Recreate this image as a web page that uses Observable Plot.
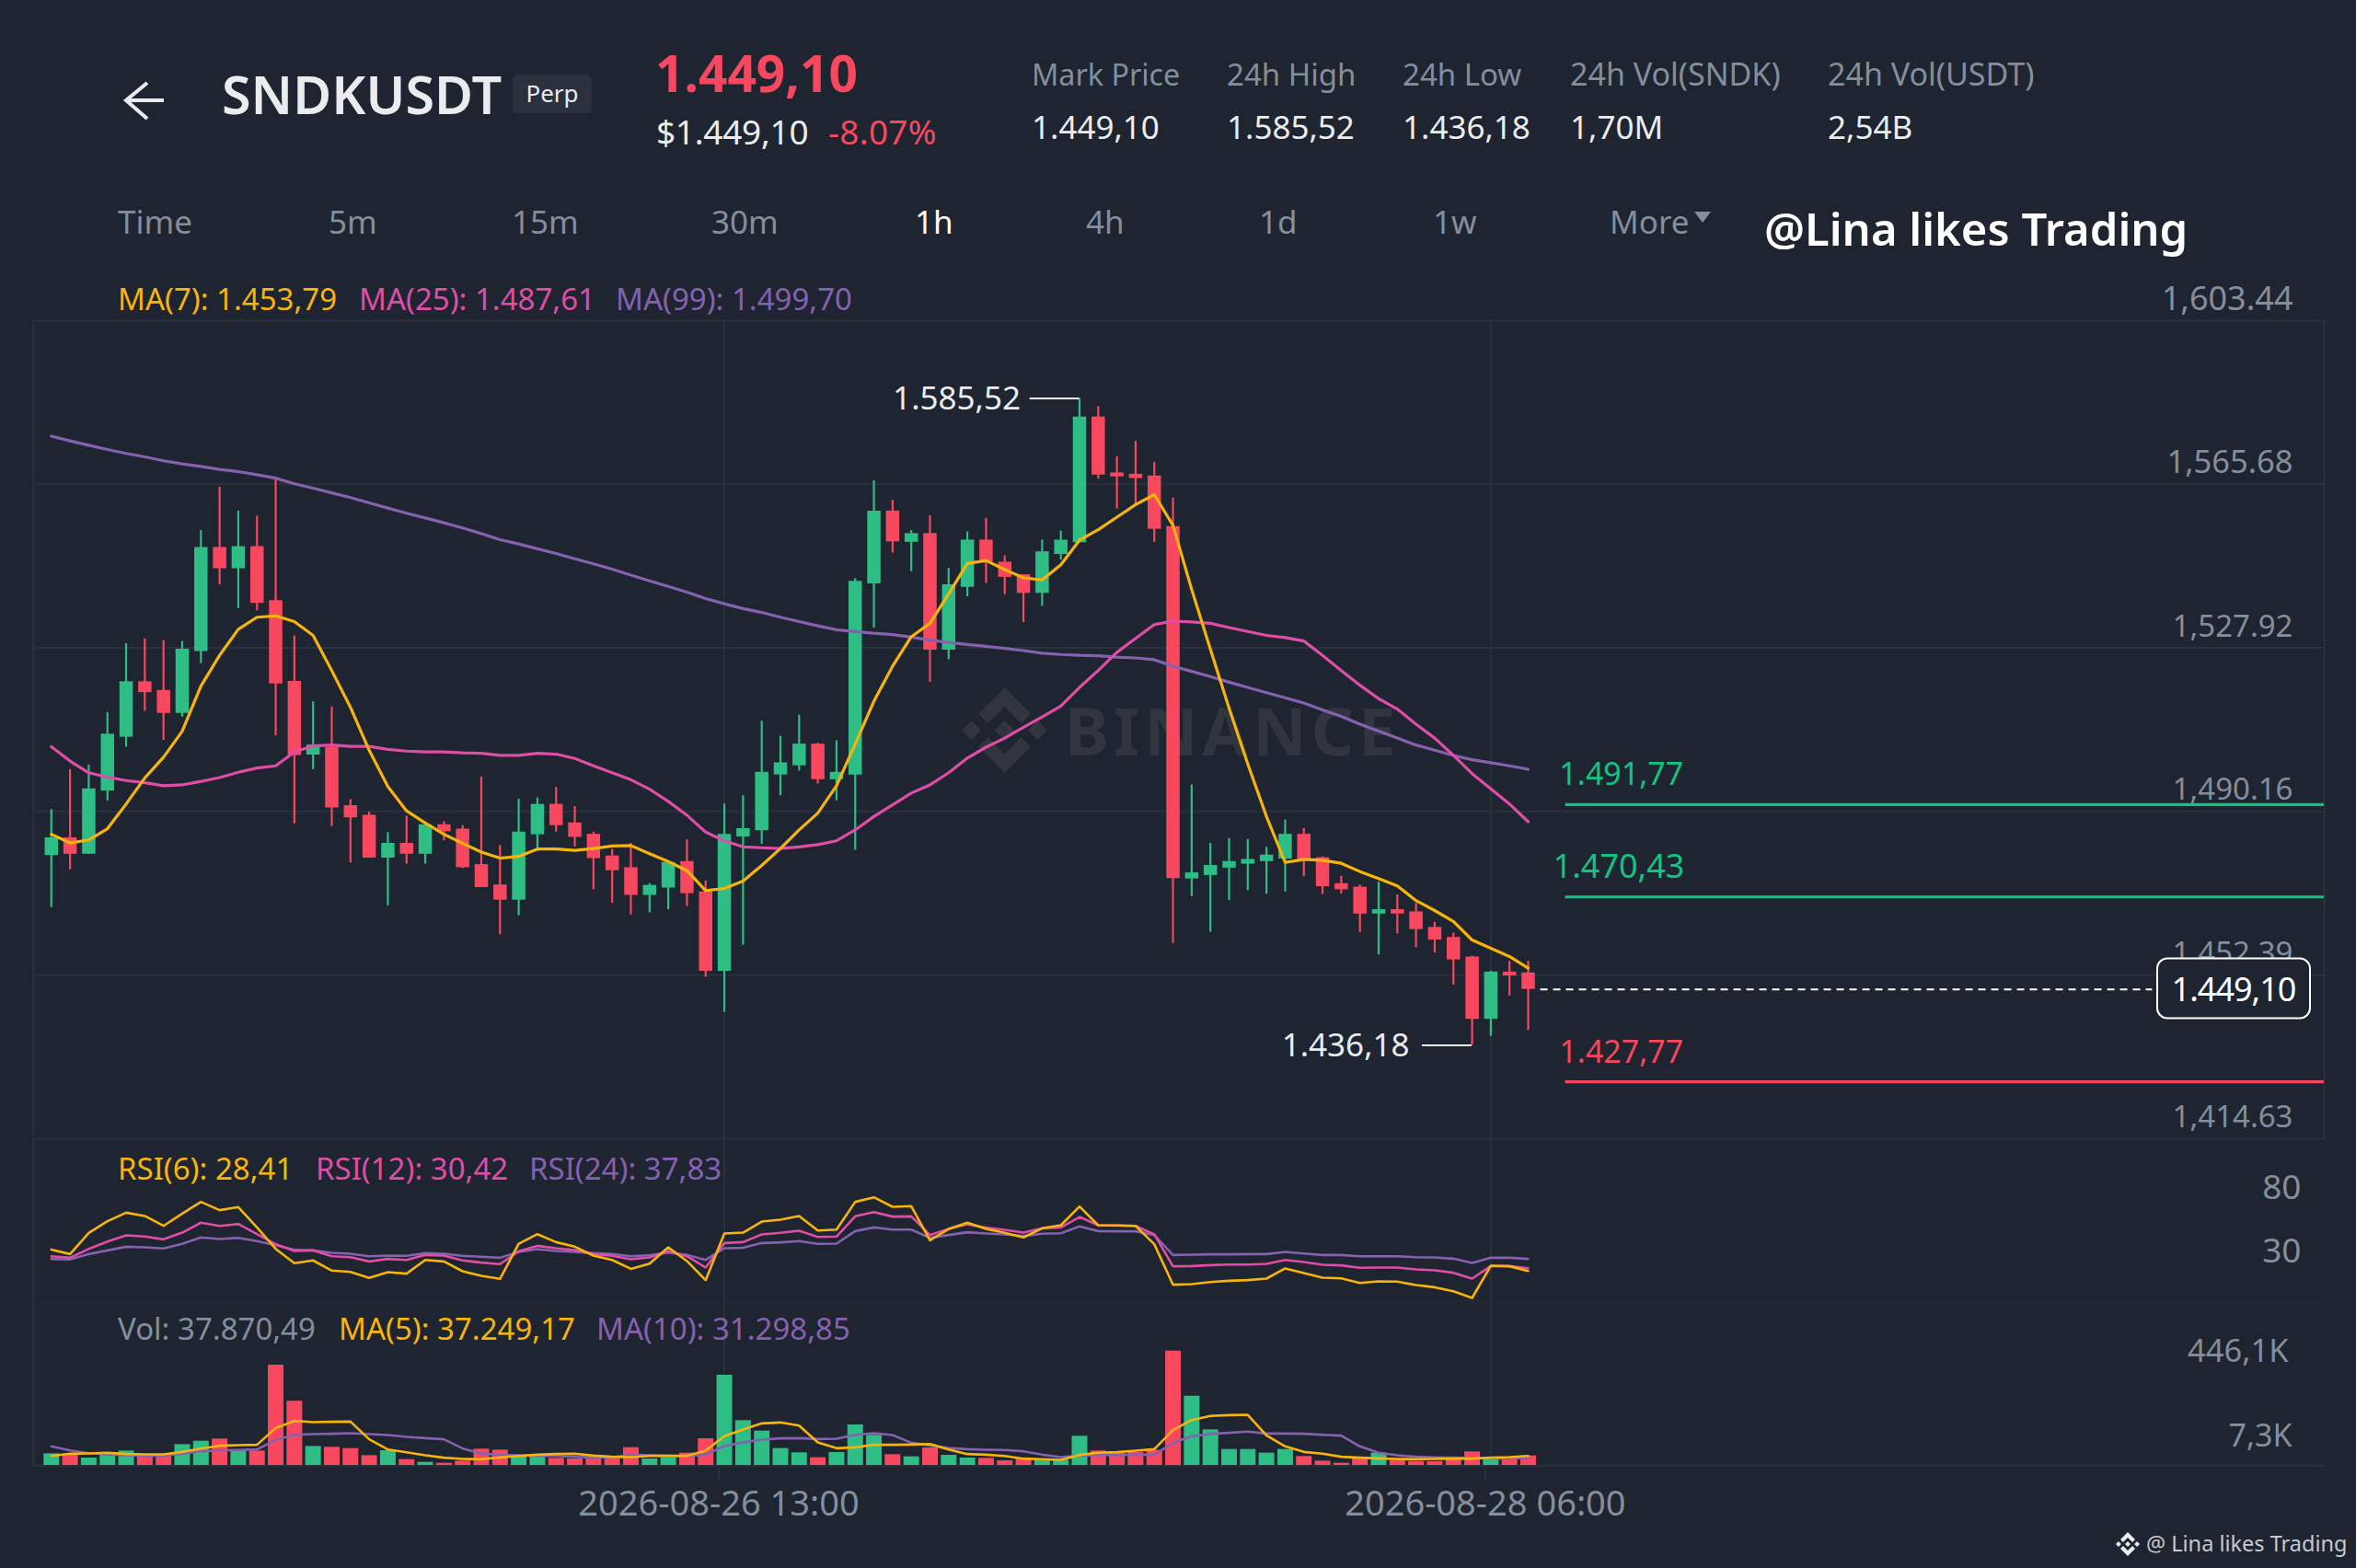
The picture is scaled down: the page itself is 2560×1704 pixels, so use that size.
<!DOCTYPE html>
<html><head><meta charset="utf-8">
<script src="https://cdn.jsdelivr.net/npm/d3@7"></script>
<script src="https://cdn.jsdelivr.net/npm/@observablehq/plot@0.6"></script>
<style>
html,body{margin:0;padding:0;background:#1e2530}
#page{position:relative;width:2560px;height:1704px;overflow:hidden;background:#1e2530;font-family:"Noto Sans",sans-serif}
#page>svg{position:absolute;left:0;background:transparent}
.t{position:absolute;white-space:nowrap;line-height:1;transform:translateY(-50%)}
</style></head><body><div id="page"></div>
<script>
const opens=[1480.0,1484.1,1480.3,1494.9,1507.3,1520.1,1518.1,1512.8,1527.1,1551.1,1546.2,1551.3,1538.8,1520.2,1503.2,1505.0,1491.5,1489.3,1479.4,1482.8,1480.3,1487.1,1486.1,1477.9,1473.2,1469.7,1484.8,1491.8,1487.5,1484.9,1479.9,1477.2,1470.8,1472.5,1478.6,1471.6,1453.3,1484.3,1485.7,1498.6,1500.7,1505.7,1497.5,1498.6,1542.7,1559.5,1552.3,1554.3,1527.4,1541.9,1552.8,1547.7,1544.8,1540.5,1549.5,1552.2,1581.2,1568.3,1568.0,1567.6,1555.9,1474.6,1475.4,1477.1,1478.0,1478.6,1479.2,1484.9,1479.5,1473.5,1472.7,1466.5,1467.5,1467.0,1463.4,1461.1,1456.6,1442.2,1453.1,1452.9];
const highs=[1490.6,1499.8,1500.9,1513.0,1528.9,1530.0,1529.6,1529.4,1555.0,1565.0,1559.5,1558.3,1566.8,1530.7,1515.5,1514.3,1492.9,1490.0,1485.3,1489.1,1487.1,1487.8,1486.9,1498.1,1482.3,1493.0,1493.3,1495.7,1491.3,1485.4,1481.4,1482.8,1473.5,1478.8,1483.6,1474.1,1491.9,1493.8,1511.0,1507.5,1512.4,1505.9,1506.5,1543.9,1566.5,1562.0,1555.0,1558.4,1546.3,1554.7,1557.8,1549.2,1544.8,1552.8,1554.9,1585.5,1583.6,1572.0,1575.6,1570.7,1562.5,1496.3,1482.8,1483.9,1483.7,1481.9,1488.2,1486.2,1479.7,1475.2,1473.2,1473.9,1470.9,1469.0,1464.6,1462.1,1456.8,1453.3,1455.6,1455.6];
const lows=[1468.0,1476.7,1480.3,1492.6,1505.0,1513.3,1506.6,1511.9,1524.3,1542.5,1537.0,1536.5,1507.6,1487.3,1499.8,1486.7,1478.3,1479.4,1468.4,1478.0,1478.0,1483.4,1477.0,1472.6,1461.7,1466.1,1481.6,1485.4,1482.0,1472.1,1469.0,1466.3,1466.8,1467.5,1468.2,1451.9,1443.8,1459.3,1482.6,1493.8,1499.5,1496.5,1492.6,1481.2,1532.5,1549.8,1545.5,1520.0,1525.2,1539.7,1542.8,1540.2,1533.8,1537.5,1548.2,1552.2,1566.9,1560.0,1561.2,1552.3,1459.7,1470.5,1462.3,1469.6,1471.9,1471.1,1471.6,1475.1,1471.0,1471.1,1462.2,1457.1,1461.9,1458.7,1457.5,1450.1,1436.2,1438.3,1447.6,1439.6];
const closes=[1484.1,1480.3,1495.4,1508.0,1520.1,1517.6,1512.8,1527.6,1551.1,1546.2,1551.3,1538.2,1519.6,1503.1,1505.5,1491.0,1488.7,1479.4,1482.8,1480.3,1487.1,1485.5,1477.2,1472.6,1469.7,1485.4,1491.8,1486.9,1484.2,1479.3,1476.5,1470.8,1473.1,1478.4,1471.2,1453.3,1484.9,1486.2,1499.2,1501.4,1505.7,1497.5,1499.2,1543.3,1559.5,1552.4,1554.3,1527.4,1542.5,1552.8,1547.7,1544.2,1540.5,1550.1,1552.8,1581.2,1567.8,1567.4,1567.0,1555.3,1474.7,1476.0,1477.7,1478.6,1479.1,1480.1,1484.9,1479.2,1472.8,1472.1,1466.5,1467.5,1466.5,1462.9,1460.5,1455.9,1442.2,1453.1,1452.2,1449.1];
const ma7=[1484.9,1482.9,1483.6,1486.2,1491.9,1497.9,1502.7,1508.7,1519.1,1526.2,1532.2,1535.0,1535.3,1534.0,1530.8,1522.7,1514.2,1504.3,1495.9,1490.3,1487.5,1484.9,1482.8,1480.8,1479.4,1479.8,1481.5,1481.5,1481.2,1481.6,1482.2,1482.3,1480.4,1478.6,1476.5,1471.9,1472.4,1474.1,1477.7,1481.6,1485.9,1489.8,1496.1,1505.7,1515.6,1523.7,1530.5,1533.6,1540.4,1547.4,1548.1,1546.0,1544.1,1543.6,1547.1,1552.8,1555.2,1558.1,1561.0,1563.3,1556.2,1541.4,1527.6,1514.0,1501.1,1489.0,1478.4,1479.1,1478.9,1478.2,1476.3,1474.7,1473.0,1469.6,1467.3,1464.8,1460.5,1458.6,1456.7,1454.0];
const ma25=[1505.1,1501.8,1499.1,1498.1,1497.3,1496.8,1496.1,1496.3,1497.1,1498.0,1499.2,1500.2,1500.7,1503.9,1505.3,1505.5,1505.2,1505.2,1504.5,1504.1,1503.9,1503.9,1503.7,1503.6,1503.1,1503.1,1503.6,1503.4,1502.4,1500.7,1499.1,1497.5,1495.3,1492.5,1489.3,1485.4,1483.4,1482.0,1481.8,1481.6,1482.0,1482.5,1483.4,1485.9,1489.0,1491.7,1494.4,1496.3,1499.1,1502.5,1505.0,1507.1,1509.6,1512.0,1514.5,1518.8,1522.7,1526.9,1530.1,1533.3,1534.1,1533.9,1533.6,1532.6,1531.7,1530.8,1530.3,1529.5,1526.2,1522.7,1519.3,1516.2,1513.8,1510.3,1507.1,1503.1,1498.9,1495.4,1491.9,1487.8];
const ma99=[1576.8,1575.7,1574.7,1573.7,1572.8,1572.0,1571.1,1570.4,1569.8,1569.1,1568.6,1567.9,1567.1,1565.8,1564.8,1563.7,1562.6,1561.4,1560.2,1559.0,1557.9,1556.8,1555.6,1554.3,1552.9,1551.9,1550.8,1549.7,1548.5,1547.3,1546.1,1544.7,1543.4,1542.1,1540.8,1539.3,1538.1,1537.0,1536.1,1535.0,1534.0,1533.0,1532.1,1531.7,1531.3,1531.0,1530.4,1529.7,1529.2,1528.7,1528.3,1527.8,1527.3,1526.7,1526.4,1526.2,1526.1,1525.8,1525.6,1525.2,1523.7,1522.5,1521.3,1520.0,1518.8,1517.6,1516.4,1515.2,1513.6,1512.1,1510.3,1508.7,1507.1,1505.5,1504.3,1503.1,1502.1,1501.4,1500.7,1499.9];
const rsi6=[45.3,41.7,58.4,67.6,74.3,71.7,63.9,73.6,82.8,76.3,78.7,62.7,45.8,34.5,36.7,28.7,27.7,22.9,27.5,26.3,37.1,35.9,28.2,24.6,22.2,49.9,57.4,51.1,47.5,40.5,37.1,30.1,34.2,47.0,36.2,21.2,57.9,58.6,67.3,68.8,71.7,60.3,61.0,82.8,86.4,78.9,79.4,52.6,61.5,66.4,61.5,58.4,54.8,62.0,64.4,79.2,64.4,64.2,63.9,49.5,17.6,18.1,19.7,20.7,21.2,22.4,30.4,26.8,23.1,22.6,19.0,20.2,20.0,17.3,15.6,12.5,7.2,32.5,32.1,28.4];
const rsi12=[40.0,38.8,45.8,51.6,56.5,55.5,53.3,58.6,66.4,63.9,65.4,57.4,49.5,44.1,44.6,40.0,39.3,35.9,37.9,37.1,41.0,40.5,36.7,35.0,33.8,43.9,48.2,46.3,44.9,41.7,40.3,37.6,39.1,43.9,40.0,31.1,50.4,51.1,57.2,58.4,60.1,55.2,55.5,71.4,74.8,71.2,71.4,56.7,61.5,65.1,62.5,60.8,58.6,62.0,62.7,70.9,64.4,64.2,63.9,57.2,32.1,32.3,33.0,33.5,33.5,34.0,37.1,35.4,33.3,32.8,30.9,31.1,31.1,29.6,28.9,27.0,22.4,32.3,32.3,30.6];
const rsi24=[37.9,37.4,41.7,44.6,47.5,47.0,46.1,49.7,54.8,53.6,54.5,51.9,48.7,45.1,44.6,42.7,42.0,40.0,40.5,40.3,42.4,42.0,40.3,39.6,38.8,43.4,45.6,44.1,43.4,42.4,41.7,40.0,40.8,42.9,41.0,37.1,46.3,46.6,50.4,50.9,51.9,49.7,49.9,59.8,62.7,61.0,61.0,54.5,56.7,58.9,57.9,57.2,56.0,57.7,58.1,63.5,59.8,59.6,59.6,56.7,41.0,41.2,41.5,41.5,41.7,41.7,43.4,42.2,41.0,41.0,40.0,40.0,40.0,39.3,39.1,38.1,34.7,38.8,38.8,37.9];
const volumes=[46.5,42.8,29.4,44.0,57.5,40.4,40.4,83.2,96.6,105.2,61.2,57.5,400.0,255.7,75.8,72.2,67.3,39.1,58.7,23.2,12.2,8.6,17.1,64.8,61.2,40.4,36.7,28.1,25.7,28.1,28.1,71.0,25.7,30.6,48.9,106.4,359.6,178.6,137.0,67.3,50.2,30.6,51.4,161.5,119.9,42.8,34.3,69.7,40.4,29.4,28.1,18.3,25.7,24.5,20.8,116.2,57.5,48.9,51.4,59.9,456.3,276.5,141.9,63.6,63.6,48.9,63.6,35.5,17.1,8.6,30.6,48.9,20.8,15.9,14.7,30.6,53.8,26.9,30.6,37.9];
const volMa5=[37.9,46.5,47.7,50.2,45.3,44.0,44.0,53.8,67.3,78.3,80.7,82.0,149.2,177.4,172.5,173.7,174.9,104.0,63.6,52.6,40.4,30.6,25.7,24.5,31.8,37.9,42.8,45.3,46.5,39.1,34.3,33.0,37.9,37.9,37.9,58.7,116.2,143.1,167.6,171.3,159.0,91.7,68.5,72.2,82.0,82.0,83.2,85.6,63.6,45.3,42.8,37.9,26.9,24.5,22.0,41.6,50.2,52.6,58.7,64.8,140.7,181.0,197.0,200.6,201.8,119.9,75.8,53.8,46.5,34.3,30.6,28.1,25.7,24.5,25.7,26.9,26.9,30.6,33.0,37.9];
const volMa10=[75.8,59.9,48.9,44.0,40.4,39.1,39.1,46.5,56.3,59.9,61.2,63.6,101.5,122.3,124.8,126.0,128.4,124.8,121.1,113.8,108.9,104.0,67.3,47.7,41.6,40.4,37.9,37.9,34.3,31.8,33.0,42.8,40.4,37.9,36.7,42.8,77.1,91.7,102.8,107.7,108.9,105.2,106.4,122.3,128.4,121.1,90.5,79.5,69.7,64.8,62.4,61.2,56.3,42.8,33.0,39.1,41.6,41.6,42.8,42.8,89.3,116.2,126.0,129.7,134.6,127.2,127.2,126.0,122.3,118.7,75.8,50.2,40.4,34.3,31.8,30.6,29.4,28.1,28.1,30.6];

const firstHour=new Date("2026-08-25T01:00Z"), lastHour=new Date("2026-08-28T08:00Z");
const timeTicks=[new Date("2026-08-26T13:00Z"),new Date("2026-08-28T06:00Z")];
const priceTicks=[1603.44,1565.68,1527.92,1490.16,1452.39,1414.63];
const rsiTicks=[80,30];
const levelStart=new Date("2026-08-28T10:00Z"), levelEnd=new Date("2026-08-30T02:35Z"), lastStart=new Date("2026-08-28T08:40Z"), lastEnd=new Date("2026-08-29T17:24Z");
const levels=[{p:1491.77,label:"1.491,77",c:"#12c481",s:34,lx:new Date("2026-08-28T09:40Z")},{p:1470.43,label:"1.470,43",c:"#12c481",s:36,lx:new Date("2026-08-28T09:20Z")},{p:1427.77,label:"1.427,77",c:"#f6465d",s:34,lx:new Date("2026-08-28T09:40Z")}];
const lastPrice=1449.10, lastLabel="1.449,10";
const highMark=[{t:new Date("2026-08-27T08:00Z"),from:new Date("2026-08-27T05:21Z"),p:1585.52,label:"1.585,52"}];
const lowMark=[{t:new Date("2026-08-28T05:00Z"),from:new Date("2026-08-28T02:20Z"),p:1436.18,label:"1.436,18"}];
const GREEN="#2ebd85",RED="#f84860",YEL="#f7b50c",PINK="#df4da6",PUR="#8561b0",GRID="#2a313d",GREY="#848e9c",LIGHT="#eaecef";

const hours=closes.map((_,i)=>d3.utcHour.offset(firstHour,i));
const candles=closes.map((c,i)=>({t:hours[i],o:opens[i],h:highs[i],l:lows[i],c,v:volumes[i],up:c>=opens[i]}));
const up=candles.filter(d=>d.up),down=candles.filter(d=>!d.up);
const series=a=>a.map((v,i)=>({t:hours[i],v}));
const xScale={type:"utc",domain:[firstHour,lastHour],range:[55.3,1660],axis:null};
const base={width:2560,marginLeft:36,marginRight:35,x:xScale,style:{background:"transparent",fontFamily:"'Noto Sans',sans-serif"}};
const line=(a,c,w=3.2)=>Plot.line(series(a),{x:"t",y:"v",stroke:c,strokeWidth:w,curve:"linear"});
const grid=t=>[Plot.ruleX(timeTicks,{stroke:GRID,strokeWidth:2}),Plot.frame({anchor:"left",stroke:GRID,strokeWidth:2})];
const page=document.getElementById("page");
const priceAxis=(ticks,size)=>Plot.axisY(ticks,{anchor:"right",tickSize:0,tickPadding:0,textAnchor:"end",dx:-34,dy:-23,fontSize:size,fill:GREY,label:null,letterSpacing:"-0.5px",tickFormat:d3.format(",.2f")});

// main panel
const main=Plot.plot({...base,height:1240,marginTop:348,marginBottom:3,
  y:{domain:[1414.63,1603.44],axis:null},
  marks:[
   Plot.ruleY(priceTicks,{stroke:GRID,strokeWidth:2}),...grid(),Plot.frame({anchor:"right",stroke:GRID,strokeWidth:2}),
   Plot.ruleX(down,{x:"t",y1:"l",y2:"h",stroke:RED,strokeWidth:2.2}),
   Plot.ruleX(up,{x:"t",y1:"l",y2:"h",stroke:GREEN,strokeWidth:2.2}),
   Plot.ruleX(down,{x:"t",y1:"o",y2:"c",stroke:RED,strokeWidth:14.5}),
   Plot.ruleX(up,{x:"t",y1:"o",y2:"c",stroke:GREEN,strokeWidth:14.5}),
   line(ma99,PUR),line(ma25,PINK),line(ma7,YEL),
   Plot.ruleY(levels,{y:"p",x1:levelStart,x2:levelEnd,stroke:"c",strokeWidth:3.2}),
   Plot.text(levels,{x:"lx",y:"p",text:"label",fill:"c",fontSize:"s",textAnchor:"start",dy:-32,letterSpacing:"-0.5px"}),
   Plot.ruleY([lastPrice],{x1:lastStart,x2:lastEnd,stroke:"#ffffff",strokeWidth:2,strokeDasharray:"8,6"}),
   Plot.ruleY([...highMark,...lowMark],{y:"p",x1:"from",x2:"t",stroke:LIGHT,strokeWidth:2}),
   Plot.text(highMark,{x:"t",y:"p",text:"label",fill:LIGHT,fontSize:35,textAnchor:"end",dx:-64,dy:1,letterSpacing:"-1.5px"}),
   Plot.text(lowMark,{x:"t",y:"p",text:"label",fill:LIGHT,fontSize:35,textAnchor:"end",dx:-68,dy:1,letterSpacing:"-2px"}),
   priceAxis(priceTicks.slice(0,1),36),priceAxis(priceTicks.slice(1,2),34.5),priceAxis(priceTicks.slice(2),33)
  ]});
main.style.top="0px";

// rsi panel
const rsi=Plot.plot({...base,height:177,marginTop:0,marginBottom:0,
  y:{domain:[4.3,132.5],axis:null},
  marks:[Plot.ruleY([4.3],{stroke:GRID,strokeWidth:2}),...grid(),
   line(rsi24,PUR,2.6),line(rsi12,PINK,2.6),line(rsi6,YEL,2.6),
   Plot.axisY(rsiTicks,{anchor:"right",tickSize:0,tickPadding:0,textAnchor:"end",dx:-25,dy:-19,fontSize:37,fill:GREY,label:null})
  ]});
rsi.style.top="1237px";

// volume panel
const fmtK=d=>String(d).replace(".",",")+"K";
const vol=Plot.plot({...base,height:290,marginTop:0,marginBottom:112,
  y:{domain:[0,653.3],axis:null},
  marks:[Plot.ruleY([0],{stroke:GRID,strokeWidth:2}),...grid(),
   Plot.ruleX(candles.filter(d=>d.up),{x:"t",y1:0,y2:"v",stroke:GREEN,strokeWidth:17}),
   Plot.ruleX(candles.filter(d=>!d.up),{x:"t",y1:0,y2:"v",stroke:RED,strokeWidth:17}),
   line(volMa10,PUR,2.6),line(volMa5,YEL,2.6),
   Plot.axisY([446.1],{anchor:"right",tickSize:0,tickPadding:0,textAnchor:"end",dx:-39,dy:-2,fontSize:34.5,fill:GREY,label:null,letterSpacing:"-0.5px",tickFormat:fmtK}),
   Plot.axisY([7.3],{anchor:"right",tickSize:0,tickPadding:0,textAnchor:"end",dx:-35,dy:-29,fontSize:34,fill:GREY,label:null,letterSpacing:"-0.5px",tickFormat:fmtK}),
   Plot.axisX(timeTicks,{anchor:"bottom",tickSize:13,tickPadding:12,stroke:GRID,fill:GREY,strokeWidth:2,fontSize:38,dx:-6,dy:3,label:null,tickFormat:d3.utcFormat("%Y-%m-%d %H:%M")})
  ]});
vol.style.top="1414px";

// html text
function put(text,x,y,size,color,weight,extra){
  const e=document.createElement("div");e.className="t";e.textContent=text;
  e.style.cssText=`left:${x}px;top:${y}px;font-size:${size}px;color:${color};font-weight:${weight||400};`+(extra||"");
  page.appendChild(e);return e;
}
const logoPath="M38.73 53.2l24.59-24.58 24.6 24.6 14.3-14.31L63.32 0 24.43 38.9zM0 63.31l14.3-14.31 14.31 14.31-14.31 14.3zM38.73 73.41l24.59 24.59 24.6-24.6 14.31 14.29-38.9 38.91-38.91-38.88-.02-.02zM98 63.31l14.3-14.31 14.31 14.3-14.31 14.32zM77.83 63.3L63.32 48.78 52.59 59.51l-1.24 1.23-2.54 2.54 14.51 14.5 14.5-14.47z";
function icon(markup,x,y,w,h,vb){
  const ns="http://www.w3.org/2000/svg",s=document.createElementNS(ns,"svg");
  s.setAttribute("viewBox",vb);s.setAttribute("width",w);s.setAttribute("height",h);
  s.style.cssText=`position:absolute;left:${x}px;top:${y}px;`;s.innerHTML=markup;return s;
}
// watermark sits under the panels
page.appendChild(icon(`<path d="${logoPath}" fill="#30353f"/>`,1044,747,95,93,"0 0 126.61 126.61"));
put("BINANCE",1157,793,72,"#30353f",700,"letter-spacing:5px;");
page.append(main,rsi,vol);

page.appendChild(icon(`<path d="M178 109H140M160 90L137 109L160 129" fill="none" stroke="#eaecef" stroke-width="4"/>`,0,0,200,140,"0 0 200 140"));
put("SNDKUSDT",241,103,57.5,LIGHT,600);
put("Perp",557,102,26,LIGHT,400,"width:86px;height:42px;line-height:40px;text-align:center;background:#2b313c;border-radius:6px;");
put("1.449,10",712,78,55,RED,700);
put("$1.449,10",713,142,37,LIGHT,400,"letter-spacing:-0.3px;");
put("-8.07%",900,142,37,RED,400,"letter-spacing:0.3px;");
const statLabels=[["Mark Price",1121,32.3],["24h High",1333,33],["24h Low",1524,33],["24h Vol(SNDK)",1706,34],["24h Vol(USDT)",1986,34]];
const statValues=["1.449,10","1.585,52","1.436,18","1,70M","2,54B"];
statLabels.forEach(([s,x,f],i)=>{put(s,x,80,f,GREY);put(statValues[i],x,137,35,LIGHT)});
const tabs=[["Time",128],["5m",357],["15m",556],["30m",773],["1h",994],["4h",1180],["1d",1368],["1w",1557],["More",1749]];
tabs.forEach(([s,x])=>put(s,x,240,35,s==="1h"?"#ffffff":GREY));
page.appendChild(icon(`<path d="M0 0H18L9 12Z" fill="${GREY}"/>`,1841,230,18,12,"0 0 18 12"));
put("@Lina likes Trading",1917,248,49,"#ffffff",600);
[["MA(7): 1.453,79",128,YEL],["MA(25): 1.487,61",390,PINK],["MA(99): 1.499,70",669,PUR]].forEach(([s,x,c])=>put(s,x,324,33,c));
[["RSI(6): 28,41",128,YEL],["RSI(12): 30,42",343,PINK],["RSI(24): 37,83",575,PUR]].forEach(([s,x,c])=>put(s,x,1269,33,c));
[["Vol: 37.870,49",128,GREY],["MA(5): 37.249,17",368,YEL],["MA(10): 31.298,85",648,PUR]].forEach(([s,x,c])=>put(s,x,1443,33,c));
put(lastLabel,2343,1074,36,"#ffffff",400,"box-sizing:border-box;width:168px;height:67px;line-height:63px;text-align:center;background:#1e2530;border:2px solid #ffffff;border-radius:12px;letter-spacing:-1px;");
page.appendChild(icon(`<path d="${logoPath}" fill="#eaecef"/>`,2299,1665,26,26,"0 0 126.61 126.61"));
put("@ Lina likes Trading",2332,1678,23.5,"#c4c8cf");
</script></body></html>
